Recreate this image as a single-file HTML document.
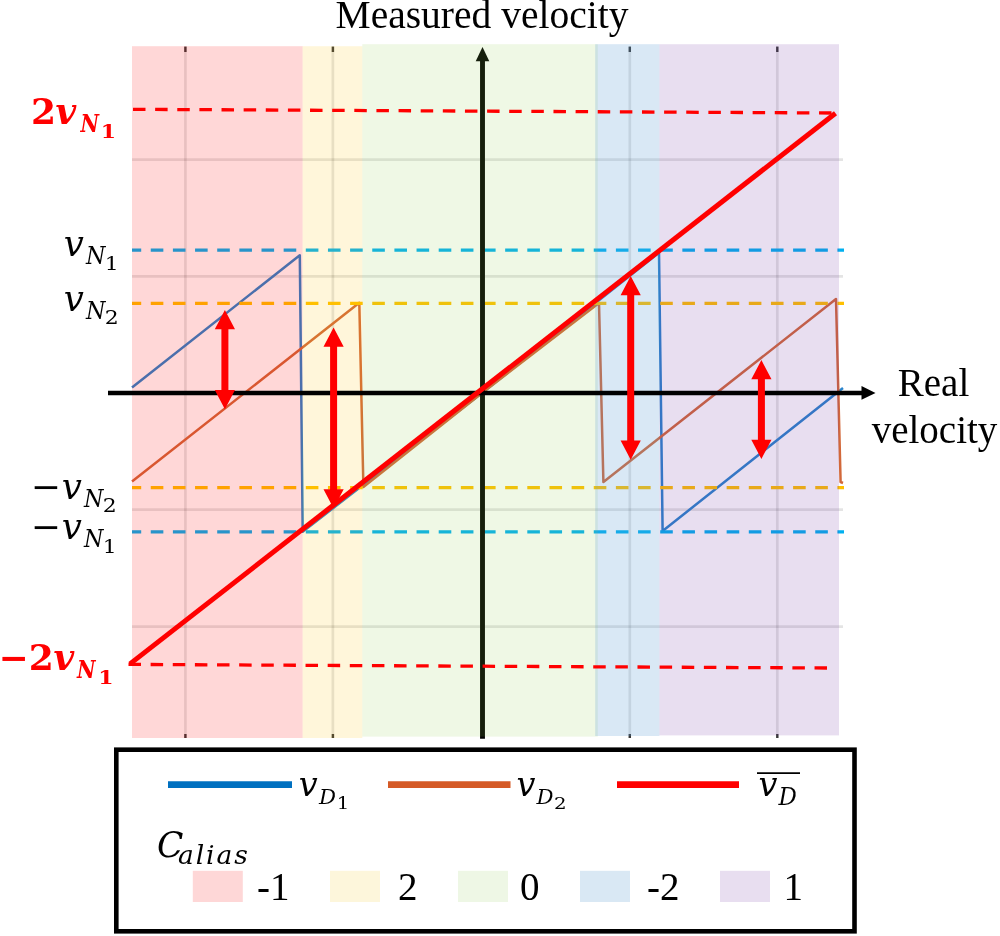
<!DOCTYPE html>
<html lang="en"><head><meta charset="utf-8"><title>Measured velocity vs real velocity</title>
<style>
html,body{margin:0;padding:0;background:#fff;}
body{width:1000px;height:936px;overflow:hidden;}
svg{display:block;}
text{white-space:pre;}
</style></head><body>
<svg width="1000" height="936" viewBox="0 0 1000 936">
<rect width="1000" height="936" fill="#fff"/>
<g stroke="#000" stroke-opacity="0.105" stroke-width="2.7" fill="none">
<line x1="185.4" y1="46.5" x2="185.4" y2="738"/>
<line x1="332.9" y1="46.5" x2="332.9" y2="738"/>
<line x1="629.8" y1="46.5" x2="629.8" y2="738"/>
<line x1="777.3" y1="46.5" x2="777.3" y2="738"/>
<line x1="132" y1="159.6" x2="843" y2="159.6"/>
<line x1="132" y1="276.4" x2="843" y2="276.4"/>
<line x1="132" y1="509.7" x2="843" y2="509.7"/>
<line x1="132" y1="626.7" x2="843" y2="626.7"/>
</g>
<g stroke="#1a1a1a" stroke-opacity="0.85" stroke-width="2.4">
<line x1="185.4" y1="46.6" x2="185.4" y2="52"/><line x1="185.4" y1="734" x2="185.4" y2="738"/>
<line x1="332.9" y1="46.6" x2="332.9" y2="52"/><line x1="332.9" y1="734" x2="332.9" y2="738"/>
<line x1="629.8" y1="46.6" x2="629.8" y2="52"/><line x1="629.8" y1="734" x2="629.8" y2="738"/>
<line x1="777.3" y1="46.6" x2="777.3" y2="52"/><line x1="777.3" y1="734" x2="777.3" y2="738"/>
</g>
<g fill="none" stroke-width="2.5" stroke-linejoin="round">
<polyline stroke="#2a84cc" points="132,387.6 299.8,255.2 302.7,531.7 482,393 659,252.7 662.6,531 843,388"/>
<polyline stroke="#d2683a" points="132,481.5 359.3,302.8 363.4,487 482,393 599,303 603.4,482 836,299 840.6,482 843,483"/>
</g>
<g fill="none" stroke-width="3.2" stroke-dasharray="12.6 9.55" stroke-dashoffset="3.4">
<line x1="132" y1="250.1" x2="844" y2="250.1" stroke="#00b0f0"/>
<line x1="132" y1="303.4" x2="844" y2="303.4" stroke="#ffc000"/>
<line x1="132" y1="487.6" x2="844" y2="487.6" stroke="#ffc000"/>
<line x1="132" y1="531.8" x2="844" y2="531.8" stroke="#00b0f0"/>
</g>
<line x1="482.5" y1="60" x2="482.5" y2="738.8" stroke="#000" stroke-width="4.9"/>
<path d="M482.5 47 L489.3 61.2 L475.7 61.2 Z" fill="#000"/>
<rect x="132" y="46.2" width="170.60" height="691.80" fill="rgba(255,0,0,0.157)"/>
<rect x="302.6" y="46.2" width="59.70" height="691.80" fill="rgba(255,192,0,0.145)"/>
<rect x="362.3" y="44.2" width="235.50" height="692.40" fill="rgba(146,208,80,0.15)"/>
<rect x="595.2" y="44.2" width="64.20" height="691.80" fill="rgba(91,155,213,0.23)"/>
<rect x="659.4" y="44.2" width="179.60" height="691.20" fill="rgba(112,48,160,0.16)"/>
<g fill="none" stroke="#ff0000" stroke-width="3.3" stroke-dasharray="12.5 9.63"><line x1="133" y1="109.3" x2="835" y2="113"/><line x1="128.5" y1="664.4" x2="827" y2="668"/></g>
<line x1="108" y1="393" x2="863" y2="393" stroke="#000" stroke-width="4.3"/>
<path d="M875.5 392.9 L861.5 386 L861.5 399.7 Z" fill="#000"/>
<line x1="130" y1="663.9" x2="835.5" y2="113.2" stroke="#ff0000" stroke-width="5" stroke-linecap="butt"/>
<path d="M224.9 310 L235.0 329.2 L228.4 329.2 L228.4 390.0 L235.0 390.0 L224.9 409.2 L214.8 390.0 L221.4 390.0 L221.4 329.2 L214.8 329.2 Z" fill="#ff0000"/>
<path d="M333.6 327.5 L343.70000000000005 346.7 L337.1 346.7 L337.1 489.2 L343.70000000000005 489.2 L333.6 508.4 L323.5 489.2 L330.1 489.2 L330.1 346.7 L323.5 346.7 Z" fill="#ff0000"/>
<path d="M630.7 276 L640.8000000000001 295.2 L634.2 295.2 L634.2 440.5 L640.8000000000001 440.5 L630.7 459.7 L620.6 440.5 L627.2 440.5 L627.2 295.2 L620.6 295.2 Z" fill="#ff0000"/>
<path d="M761.4 360 L771.5 379.2 L764.9 379.2 L764.9 439.8 L771.5 439.8 L761.4 459 L751.3 439.8 L757.9 439.8 L757.9 379.2 L751.3 379.2 Z" fill="#ff0000"/>
<text x="482" y="27.8" text-anchor="middle" font-family="'Liberation Serif', 'DejaVu Serif', serif" font-size="39.5">Measured velocity</text>
<text x="933.5" y="396" text-anchor="middle" font-family="'Liberation Serif', 'DejaVu Serif', serif" font-size="39">Real</text>
<text x="934.5" y="443.2" text-anchor="middle" font-family="'Liberation Serif', 'DejaVu Serif', serif" font-size="39">velocity</text>
<text x="31.00" y="124.00" font-family="'DejaVu Serif', 'Liberation Serif', serif" font-size="36" font-weight="bold" fill="#ff0000">2</text>
<text x="55.40" y="124.00" font-family="'DejaVu Serif', 'Liberation Serif', serif" font-size="35.6" font-style="italic" font-weight="bold" fill="#ff0000">v</text>
<text transform="translate(80.60 132.00) scale(0.82 1)" font-family="'DejaVu Serif', 'Liberation Serif', serif" font-size="24.7" font-style="italic" font-weight="bold" fill="#ff0000">N</text>
<text transform="translate(100.80 137.50) scale(1.2 1)" font-family="'DejaVu Serif', 'Liberation Serif', serif" font-size="18.3" font-weight="bold" fill="#ff0000">1</text>
<text x="63.80" y="256.40" font-family="'DejaVu Serif', 'Liberation Serif', serif" font-size="35.6" font-style="italic" fill="#000">v</text>
<text transform="translate(86.00 264.40) scale(0.9 1)" font-family="'DejaVu Serif', 'Liberation Serif', serif" font-size="24.7" font-style="italic" fill="#000">N</text>
<text transform="translate(104.80 269.90) scale(1.2 1)" font-family="'DejaVu Serif', 'Liberation Serif', serif" font-size="18.3" fill="#000">1</text>
<text x="63.80" y="310.70" font-family="'DejaVu Serif', 'Liberation Serif', serif" font-size="35.6" font-style="italic" fill="#000">v</text>
<text transform="translate(86.00 318.70) scale(0.9 1)" font-family="'DejaVu Serif', 'Liberation Serif', serif" font-size="24.7" font-style="italic" fill="#000">N</text>
<text transform="translate(104.80 324.20) scale(1.2 1)" font-family="'DejaVu Serif', 'Liberation Serif', serif" font-size="18.3" fill="#000">2</text>
<text x="30.70" y="498.80" font-family="'DejaVu Serif', 'Liberation Serif', serif" font-size="36" fill="#000">−</text>
<text x="61.80" y="498.80" font-family="'DejaVu Serif', 'Liberation Serif', serif" font-size="35.6" font-style="italic" fill="#000">v</text>
<text transform="translate(84.00 506.80) scale(0.9 1)" font-family="'DejaVu Serif', 'Liberation Serif', serif" font-size="24.7" font-style="italic" fill="#000">N</text>
<text transform="translate(102.80 512.30) scale(1.2 1)" font-family="'DejaVu Serif', 'Liberation Serif', serif" font-size="18.3" fill="#000">2</text>
<text x="30.70" y="539.30" font-family="'DejaVu Serif', 'Liberation Serif', serif" font-size="36" fill="#000">−</text>
<text x="61.80" y="539.30" font-family="'DejaVu Serif', 'Liberation Serif', serif" font-size="35.6" font-style="italic" fill="#000">v</text>
<text transform="translate(84.00 547.30) scale(0.9 1)" font-family="'DejaVu Serif', 'Liberation Serif', serif" font-size="24.7" font-style="italic" fill="#000">N</text>
<text transform="translate(102.80 552.80) scale(1.2 1)" font-family="'DejaVu Serif', 'Liberation Serif', serif" font-size="18.3" fill="#000">1</text>
<text x="-1.50" y="670.00" font-family="'DejaVu Serif', 'Liberation Serif', serif" font-size="36" font-weight="bold" fill="#ff0000">−</text>
<text x="28.70" y="670.00" font-family="'DejaVu Serif', 'Liberation Serif', serif" font-size="36" font-weight="bold" fill="#ff0000">2</text>
<text x="53.50" y="670.00" font-family="'DejaVu Serif', 'Liberation Serif', serif" font-size="35.6" font-style="italic" font-weight="bold" fill="#ff0000">v</text>
<text transform="translate(77.00 678.00) scale(0.82 1)" font-family="'DejaVu Serif', 'Liberation Serif', serif" font-size="24.7" font-style="italic" font-weight="bold" fill="#ff0000">N</text>
<text transform="translate(98.30 683.50) scale(1.2 1)" font-family="'DejaVu Serif', 'Liberation Serif', serif" font-size="18.3" font-weight="bold" fill="#ff0000">1</text>
<rect x="116.3" y="749.7" width="738.2" height="181.6" fill="#fff" stroke="#000" stroke-width="4.6"/>
<line x1="168" y1="784.6" x2="292" y2="784.6" stroke="#0070c0" stroke-width="6.8"/>
<line x1="388" y1="784.6" x2="510.5" y2="784.6" stroke="#d55a26" stroke-width="6.8"/>
<line x1="617" y1="784.6" x2="739" y2="784.6" stroke="#ff0000" stroke-width="6.8"/>
<text x="298.80" y="796.30" font-family="'DejaVu Serif', 'Liberation Serif', serif" font-size="33.5" font-style="italic" fill="#000">v</text>
<text x="319.00" y="803.80" font-family="'DejaVu Serif', 'Liberation Serif', serif" font-size="21.3" font-style="italic" fill="#000">D</text>
<text transform="translate(336.80 809.30) scale(1.2 1)" font-family="'DejaVu Serif', 'Liberation Serif', serif" font-size="16.5" fill="#000">1</text>
<text x="516.40" y="796.30" font-family="'DejaVu Serif', 'Liberation Serif', serif" font-size="33.5" font-style="italic" fill="#000">v</text>
<text x="536.60" y="803.80" font-family="'DejaVu Serif', 'Liberation Serif', serif" font-size="21.3" font-style="italic" fill="#000">D</text>
<text transform="translate(553.90 809.30) scale(1.2 1)" font-family="'DejaVu Serif', 'Liberation Serif', serif" font-size="16.5" fill="#000">2</text>
<text x="758.60" y="796.30" font-family="'DejaVu Serif', 'Liberation Serif', serif" font-size="33.5" font-style="italic" fill="#000">v</text>
<text transform="translate(778.40 805.30) scale(0.92 1)" font-family="'DejaVu Serif', 'Liberation Serif', serif" font-size="25" font-style="italic" fill="#000">D</text>
<line x1="757" y1="773.2" x2="800" y2="773.2" stroke="#000" stroke-width="1.8"/>
<text x="157" y="857" font-family="'DejaVu Serif', 'Liberation Serif', serif" font-size="34.5" font-style="italic">C</text>
<text x="178" y="864" font-family="'DejaVu Serif', 'Liberation Serif', serif" font-size="26.5" font-style="italic" letter-spacing="1.9">alias</text>
<rect x="192.8" y="870.8" width="50" height="31.2" fill="rgb(254,215,215)"/>
<text x="257" y="900" font-family="'Liberation Serif', 'DejaVu Serif', serif" font-size="39">-1</text>
<rect x="330" y="870.8" width="50" height="31.2" fill="rgb(253,246,219)"/>
<text x="398" y="900" font-family="'Liberation Serif', 'DejaVu Serif', serif" font-size="39">2</text>
<rect x="458" y="870.8" width="50" height="31.2" fill="rgb(238,247,229)"/>
<text x="520" y="900" font-family="'Liberation Serif', 'DejaVu Serif', serif" font-size="39">0</text>
<rect x="580" y="870.8" width="50" height="31.2" fill="rgb(217,232,244)"/>
<text x="647" y="900" font-family="'Liberation Serif', 'DejaVu Serif', serif" font-size="39">-2</text>
<rect x="720" y="870.8" width="50" height="31.2" fill="rgb(232,222,240)"/>
<text x="783.5" y="900" font-family="'Liberation Serif', 'DejaVu Serif', serif" font-size="39">1</text>
</svg></body></html>
